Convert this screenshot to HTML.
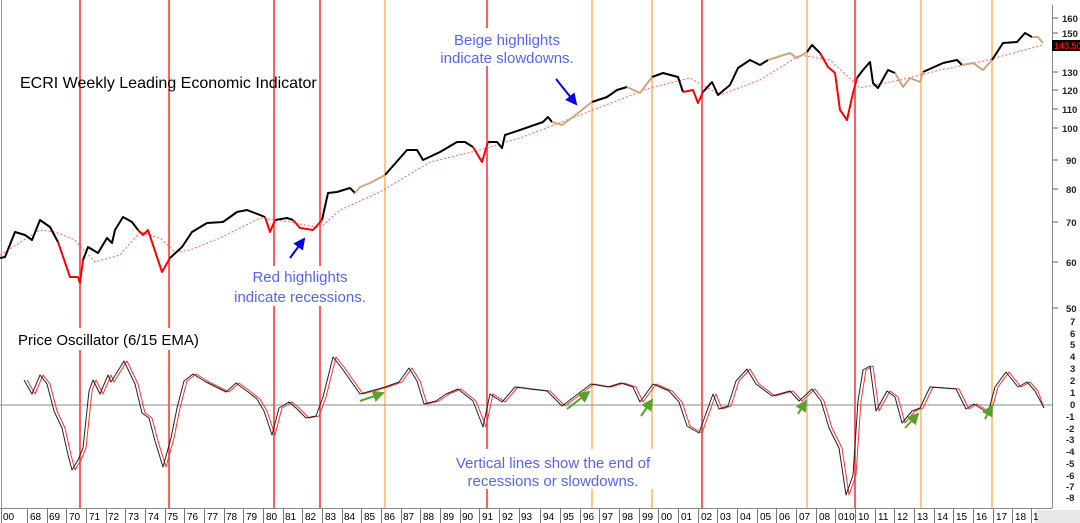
<!DOCTYPE html>
<html><head><meta charset="utf-8"><style>
html,body{margin:0;padding:0;background:#fff;}
svg{display:block;font-family:"Liberation Sans",sans-serif;}
</style></head><body>
<svg width="1080" height="523" viewBox="0 0 1080 523" xmlns="http://www.w3.org/2000/svg">
<rect width="1080" height="523" fill="#fff"/>
<line x1="1.5" y1="0" x2="1.5" y2="508" stroke="#999" stroke-width="1"/>
<!-- vertical lines -->
<g stroke-width="1.5">
<g stroke="#ff2a2a">
<line x1="80" y1="0" x2="80" y2="508"/><line x1="169" y1="0" x2="169" y2="508"/>
<line x1="274" y1="0" x2="274" y2="508"/><line x1="320" y1="0" x2="320" y2="508"/>
<line x1="487" y1="0" x2="487" y2="508"/><line x1="702" y1="0" x2="702" y2="508"/>
<line x1="855" y1="0" x2="855" y2="508"/>
</g>
<g stroke="#ffb466">
<line x1="385" y1="0" x2="385" y2="508"/><line x1="592" y1="0" x2="592" y2="508"/>
<line x1="652" y1="0" x2="652" y2="508"/><line x1="807" y1="0" x2="807" y2="508"/>
<line x1="921" y1="0" x2="921" y2="508"/><line x1="992" y1="0" x2="992" y2="508"/>
</g></g>
<!-- MA -->
<polyline fill="none" stroke="#ff6060" stroke-width="1" stroke-dasharray="2,2" points="0,255 40,230 55,232 75,240 95,262 120,255 140,232 160,238 175,252 190,250 220,238 260,218 290,222 320,228 340,210 380,192 430,162 480,150 520,138 580,115 650,88 690,78 720,95 760,80 800,55 830,60 860,88 900,80 940,70 980,62 1043,45"/>
<!-- LEI -->
<g fill="none" stroke-width="2" stroke-linejoin="round">
<g stroke="#000">
<polyline points="0,258 5,257 15,232 25,235 32,240 40,220 50,227 58,242"/>
<polyline points="83,260 88,247 98,253 107,238 112,243 115,230 123,217 132,222 138,230"/>
<polyline points="170,258 182,247 192,232 207,223 223,222 237,212 247,210 260,215 265,217"/>
<polyline points="275,220 287,218 293,220"/>
<polyline points="322,220 328,193 337,192 350,188 355,193"/>
<polyline points="385,175 407,150 417,150 423,160 440,152 457,142 465,142 473,147"/>
<polyline points="488,142 497,142 502,148 505,135 520,130 543,122 548,117 552,122"/>
<polyline points="592,102 607,97 617,90 627,87"/>
<polyline points="652,77 663,73 678,77 683,92"/>
<polyline points="703,92 712,82 718,95 730,85 738,68 750,60 760,65 768,60"/>
<polyline points="807,52 812,45 820,53"/>
<polyline points="857,78 863,70 870,62 873,83 878,88 888,70 895,73"/>
<polyline points="923,72 943,63 957,60 962,65"/>
<polyline points="992,60 1003,43 1017,42 1025,33 1032,37"/>
</g>
<g stroke="#ff0000">
<polyline points="58,242 70,277 78,277 80,283 83,260"/>
<polyline points="138,230 143,235 148,230 162,272 170,258"/>
<polyline points="265,217 270,232 275,220"/>
<polyline points="293,220 300,228 313,230 322,220"/>
<polyline points="473,147 482,162 488,142"/>
<polyline points="683,92 693,90 698,103 703,92"/>
<polyline points="820,53 828,67 835,73 840,110 847,120 853,93 857,78"/>
</g>
<g stroke="#c9a882">
<polyline points="355,193 360,187 370,183 385,175"/>
<polyline points="552,122 562,125 573,117 592,102"/>
<polyline points="627,87 640,93 652,77"/>
<polyline points="768,60 790,53 797,58 807,52"/>
<polyline points="895,73 903,87 910,78 920,82 923,72"/>
<polyline points="962,65 973,63 983,70 992,60"/>
<polyline points="1032,37 1038,37 1043,43"/>
</g></g>
<!-- zero line -->
<line x1="0" y1="405" x2="1052" y2="405" stroke="#888" stroke-width="1"/>
<!-- oscillator -->
<g fill="none" stroke-width="1" stroke-linejoin="round">
<polyline stroke="#ff3030" transform="translate(3,0)" points="24,380 32,394 40,375 47,384 54,411 62,428 68,455 72,470 78,460 83,448 89,391 93,380 100,394 108,375 111,382 124,361 135,384 142,413 149,418 155,441 163,467 171,438 177,408 184,381 193,374 206,382 226,392 236,383 248,392 257,399 264,411 272,435 279,408 289,402 297,409 306,418 316,416 323,397 333,357 341,367 348,377 360,394 385,387 399,382 409,368 417,381 424,404 436,401 446,394 458,389 473,401 483,427 490,394 502,402 515,387 530,389 547,391 562,406 591,384 608,387 621,383 633,387 640,402 653,384 669,391 679,402 687,426 699,433 704,419 713,394 719,409 728,406 736,381 747,369 756,384 772,396 790,391 799,401 812,389 821,401 829,428 839,448 846,495 853,475 858,401 863,370 870,366 876,411 887,391 895,397 902,423 912,411 920,408 930,387 956,389 966,409 974,404 988,413 995,387 1006,372 1018,387 1027,382 1035,391 1041,408"/>
<polyline stroke="#222" points="24,380 32,394 40,375 47,384 54,411 62,428 68,455 72,470 78,460 83,448 89,391 93,380 100,394 108,375 111,382 124,361 135,384 142,413 149,418 155,441 163,467 171,438 177,408 184,381 193,374 206,382 226,392 236,383 248,392 257,399 264,411 272,435 279,408 289,402 297,409 306,418 316,416 323,397 333,357 341,367 348,377 360,394 385,387 399,382 409,368 417,381 424,404 436,401 446,394 458,389 473,401 483,427 490,394 502,402 515,387 530,389 547,391 562,406 591,384 608,387 621,383 633,387 640,402 653,384 669,391 679,402 687,426 699,433 704,419 713,394 719,409 728,406 736,381 747,369 756,384 772,396 790,391 799,401 812,389 821,401 829,428 839,448 846,495 853,475 858,401 863,370 870,366 876,411 887,391 895,397 902,423 912,411 920,408 930,387 956,389 966,409 974,404 988,413 995,387 1006,372 1018,387 1027,382 1035,391 1044,408"/>
</g>
<!-- green arrows -->
<defs><marker id="ga" markerWidth="6" markerHeight="6" refX="5" refY="3" orient="auto"><path d="M0,0 L6,3 L0,6 z" fill="#5aa02c"/></marker>
<marker id="ba" markerWidth="6" markerHeight="6" refX="5" refY="3" orient="auto"><path d="M0,0 L6,3 L0,6 z" fill="#0000ee"/></marker></defs>
<g stroke="#5aa02c" stroke-width="2" marker-end="url(#ga)">
<line x1="360" y1="401" x2="383" y2="393"/><line x1="567" y1="409" x2="589" y2="392"/>
<line x1="641" y1="416" x2="652" y2="400"/><line x1="798" y1="414" x2="806" y2="401"/>
<line x1="905" y1="428" x2="918" y2="414"/><line x1="985" y1="419" x2="992" y2="406"/>
</g>
<g stroke="#0000ee" stroke-width="2" marker-end="url(#ba)">
<line x1="290" y1="258" x2="304" y2="239"/><line x1="556" y1="79" x2="576" y2="104"/>
</g>
<!-- text labels -->
<text x="20" y="88" font-size="16" fill="#000">ECRI Weekly Leading Economic Indicator</text>
<rect x="14" y="328" width="196" height="22" fill="#fff"/>
<text x="18" y="345" font-size="15" fill="#000">Price Oscillator (6/15 EMA)</text>
<rect x="440" y="28" width="135" height="38" fill="#fff"/>
<g font-size="15" fill="#5566ee" text-anchor="middle">
<text x="507" y="45">Beige highlights</text><text x="507" y="63">indicate slowdowns.</text>
<rect x="230" y="266" width="140" height="40" fill="#fff"/>
<text x="300" y="282" fill="#5566ee">Red highlights</text><text x="300" y="302" fill="#5566ee">indicate recessions.</text>
<rect x="450" y="449" width="206" height="40" fill="#fff"/>
<text x="553" y="468" fill="#5566ee">Vertical lines show the end of</text><text x="553" y="486" fill="#5566ee">recessions or slowdowns.</text>
</g>
<!-- right axis -->
<rect x="1052" y="0" width="28" height="523" fill="#fff"/>
<line x1="1052.5" y1="5" x2="1052.5" y2="508" stroke="#888"/>
<g font-size="9.5" font-weight="bold" fill="#222">
<text x="1062" y="22">160</text><text x="1062" y="37">150</text>
<text x="1062" y="76">130</text><text x="1062" y="94">120</text><text x="1062" y="113">110</text>
<text x="1062" y="132">100</text><text x="1066" y="164">90</text><text x="1066" y="193">80</text>
<text x="1066" y="226">70</text><text x="1066" y="266">60</text><text x="1066" y="312">50</text>
<text x="1070" y="325">7</text><text x="1070" y="337">6</text><text x="1070" y="348">5</text>
<text x="1070" y="360">4</text><text x="1070" y="372">3</text><text x="1070" y="384">2</text>
<text x="1070" y="396">1</text><text x="1070" y="408">0</text><text x="1066" y="420">-1</text>
<text x="1066" y="432">-2</text><text x="1066" y="443">-3</text><text x="1066" y="455">-4</text>
<text x="1066" y="467">-5</text><text x="1066" y="479">-6</text><text x="1066" y="481" opacity="0"> </text>
<text x="1066" y="490">-7</text><text x="1066" y="501">-8</text>
</g>
<g stroke="#666" stroke-width="1">
<line x1="1052" y1="18" x2="1058" y2="18"/><line x1="1052" y1="33" x2="1058" y2="33"/>
<line x1="1052" y1="72" x2="1058" y2="72"/><line x1="1052" y1="90" x2="1058" y2="90"/>
<line x1="1052" y1="109" x2="1058" y2="109"/><line x1="1052" y1="128" x2="1058" y2="128"/>
<line x1="1052" y1="160" x2="1058" y2="160"/><line x1="1052" y1="189" x2="1058" y2="189"/>
<line x1="1052" y1="222" x2="1058" y2="222"/><line x1="1052" y1="262" x2="1058" y2="262"/>
<line x1="1052" y1="308" x2="1058" y2="308"/>
</g>
<rect x="1052" y="40" width="28" height="11" fill="#000"/>
<text x="1054" y="49" font-size="9" font-weight="bold" fill="#ff0000">143.50</text>
<!-- bottom axis -->
<rect x="0" y="508" width="1080" height="15" fill="#fff"/>
<line x1="0" y1="508.5" x2="1052" y2="508.5" stroke="#888"/>
<rect x="1035" y="510" width="45" height="13" fill="#e8e8e8"/>
<g font-size="10" fill="#000" stroke="none">
<text x="3" y="520">00</text>
<text x="30" y="520">68</text><text x="49" y="520">69</text><text x="69" y="520">70</text><text x="89" y="520">71</text><text x="108" y="520">72</text><text x="128" y="520">73</text><text x="148" y="520">74</text><text x="167" y="520">75</text><text x="187" y="520">76</text><text x="207" y="520">77</text><text x="226" y="520">78</text><text x="246" y="520">79</text><text x="266" y="520">80</text><text x="285" y="520">81</text><text x="305" y="520">82</text><text x="325" y="520">83</text><text x="344" y="520">84</text><text x="364" y="520">85</text><text x="384" y="520">86</text><text x="403" y="520">87</text><text x="423" y="520">88</text><text x="443" y="520">89</text><text x="462" y="520">90</text><text x="482" y="520">91</text><text x="502" y="520">92</text><text x="521" y="520">93</text><text x="543" y="520">94</text><text x="563" y="520">95</text><text x="583" y="520">96</text><text x="602" y="520">97</text><text x="622" y="520">98</text><text x="642" y="520">99</text><text x="661" y="520">00</text><text x="681" y="520">01</text><text x="701" y="520">02</text><text x="720" y="520">03</text><text x="740" y="520">04</text><text x="760" y="520">05</text><text x="779" y="520">06</text><text x="799" y="520">07</text><text x="819" y="520">08</text><text x="838" y="520">010</text><text x="858" y="520">10</text><text x="878" y="520">11</text><text x="897" y="520">12</text><text x="917" y="520">13</text><text x="937" y="520">14</text><text x="956" y="520">15</text><text x="976" y="520">16</text><text x="996" y="520">17</text><text x="1015" y="520">18</text><text x="1033" y="520">1</text>
</g>
<g stroke="#777" stroke-width="1">
<path d="M1.5,509v14M27.5,509v14M47.5,509v14M66.5,509v14M86.5,509v14M106.5,509v14M125.5,509v14M145.5,509v14M165.5,509v14M184.5,509v14M204.5,509v14M224.5,509v14M243.5,509v14M263.5,509v14M283.5,509v14M302.5,509v14M322.5,509v14M342.5,509v14M361.5,509v14M381.5,509v14M401.5,509v14M420.5,509v14M440.5,509v14M460.5,509v14M479.5,509v14M499.5,509v14M519.5,509v14M540.5,509v14M560.5,509v14M580.5,509v14M599.5,509v14M619.5,509v14M639.5,509v14M658.5,509v14M678.5,509v14M698.5,509v14M717.5,509v14M737.5,509v14M757.5,509v14M776.5,509v14M796.5,509v14M816.5,509v14M835.5,509v14M855.5,509v14M875.5,509v14M894.5,509v14M914.5,509v14M934.5,509v14M953.5,509v14M973.5,509v14M993.5,509v14M1012.5,509v14M1031.5,509v14"/>
</g>
</svg>
</body></html>
